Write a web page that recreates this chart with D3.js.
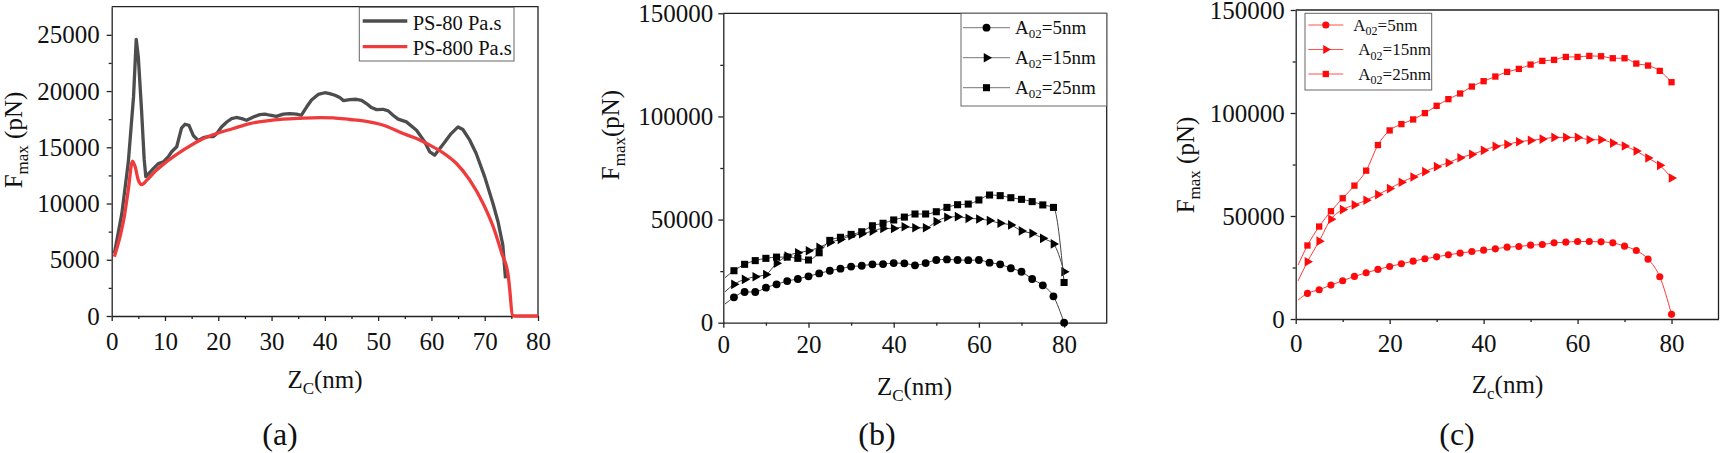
<!DOCTYPE html>
<html>
<head>
<meta charset="utf-8">
<script src="https://cdn.jsdelivr.net/npm/d3@7"></script>
<style>
  body { margin: 0; background: #fff; }
  text { white-space: pre; }
</style>
</head>
<body>
<svg id="fig" width="1720" height="453"></svg>
<script>
// panel (a): Fmax vs Zc for two viscosities
var ps80Z = [0.5, 1.9, 3.1, 4.1, 4.6, 5.0, 5.6, 6.1, 6.4, 7.2, 7.8, 8.75, 9.7, 10.6, 11.25, 12.2, 13.1, 13.75, 14.5, 15.3,
  16.25, 17.2, 18.1, 19.1, 19.7, 20.6, 21.6, 22.5, 23.4, 24.4, 25.3, 26.6, 27.8, 28.75, 29.7, 30.9, 32.2, 33.4, 34.7, 35.6,
  36.6, 37.5, 38.75, 40, 40.9, 41.9, 42.8, 43.5, 44.7, 45.9, 46.9, 47.8, 48.75, 49.7, 50.9, 51.9, 52.8, 53.75, 55.3, 57.2,
  58.75, 59.7, 60.6, 62.2, 63.7, 65, 65.9, 67.2, 68.4, 70, 71.55, 72.5, 73.4, 73.9];
var ps80F = [5560, 9100, 13600, 19500, 24600, 23000, 18300, 13900, 12400, 12800, 13100, 13550, 13700, 14150, 14600, 15050, 16700, 17050, 16950, 16050,
  15600, 15850, 15950, 15950, 16200, 16800, 17250, 17550, 17650, 17550, 17400, 17700, 17900, 17950, 17850, 17750, 17950, 18000, 17950, 17850,
  18600, 19200, 19700, 19850, 19770, 19630, 19420, 19150, 19240, 19270, 19180, 18890, 18530, 18350, 18380, 18240, 17850, 17500, 17260, 16520,
  15480, 14590, 14300, 15280, 16220, 16810, 16580, 15630, 14450, 12370, 10000, 8380, 6300, 3350];
var ps800Z = [0.5, 1.56, 2.3, 3.1, 3.9, 4.4, 5.0, 5.6, 6.6, 8.4, 10.3, 13.4, 16.6, 19.7, 22.8, 25.9, 29.1, 32.2, 35.3, 39.1,
  41.6, 44.7, 47.2, 51, 54.7, 57.2, 59.7, 62.2, 64.7, 67.2, 69.7, 71.6, 73.2, 74.4, 74.7, 75.2, 75.7, 80];
var ps800F = [5270, 7050, 8670, 11190, 13770, 13260, 12080, 11690, 12080, 12970, 13710, 14740, 15630, 16220, 16670, 17110, 17350, 17500, 17580, 17640,
  17610, 17470, 17350, 16960, 16220, 15780, 15190, 14510, 13560, 12080, 10010, 7930, 5570, 3640, 2310, 90, 0, 0];
var legendA = ["PS-80 Pa.s", "PS-800 Pa.s"];

// panels (b) and (c): three amplitudes, sampled every 2.5 nm
var zc = [2.5, 5, 7.5, 10, 12.5, 15, 17.5, 20, 22.5, 25, 27.5, 30, 32.5, 35, 37.5, 40,
  42.5, 45, 47.5, 50, 52.5, 55, 57.5, 60, 62.5, 65, 67.5, 70, 72.5, 75, 77.5, 80];
var bA5 = [12300, 14900, 14900, 17000, 18600, 20200, 21200, 22500, 23900, 25200, 26200, 27200, 27600, 28300, 28400, 28900,
  28800, 27800, 28900, 30400, 30700, 30400, 30300, 30400, 29100, 28300, 26400, 24700, 21200, 18100, 12800, 0];
var bA15 = [18600, 21000, 22300, 23400, 28800, 32300, 33900, 34900, 36500, 38900, 40400, 42200, 43100, 44400, 45700, 45700,
  46500, 46000, 46000, 49000, 51100, 51400, 50600, 50300, 49500, 48200, 47400, 44500, 43300, 40900, 38200, 24700];
var bA25 = [25200, 28300, 30100, 31200, 31800, 31800, 31200, 30400, 33900, 39900, 41400, 42800, 44100, 47000, 48200, 49800,
  51200, 52700, 52700, 53800, 55900, 57200, 57500, 59500, 61900, 61600, 60600, 59800, 58700, 57100, 55900, 19500];
var bStart = [9050, 15000, 21800];   // where the fitted lines leave the y axis
var cA5 = [12430, 14210, 16470, 18570, 20670, 22440, 24060, 25510, 26800, 28090, 29220, 30190, 31160, 31970, 32770, 33420,
  34070, 34870, 35200, 35840, 36170, 36970, 37300, 37620, 37620, 37460, 36970, 35360, 33260, 29060, 20500, 2260];
var cA15 = [27770, 37780, 48430, 53120, 55380, 57640, 60380, 63290, 66360, 68940, 71520, 73950, 75880, 78300, 79920, 81860,
  83790, 84760, 86050, 86700, 87340, 88150, 88150, 88150, 87020, 87020, 85400, 83950, 81530, 78140, 74590, 68460];
var cA25 = [35680, 44880, 52310, 58610, 64740, 72010, 84440, 91540, 94610, 96870, 99940, 103490, 106720, 109460, 112850, 115440,
  117700, 119960, 121410, 123510, 125290, 125770, 127220, 127220, 127710, 127550, 126580, 126580, 124000, 123030, 120440, 114950];
var cStart = [9200, 18500, 26150];
var ampLabels = ["5nm", "15nm", "25nm"];

var FONT = '"Liberation Serif", "Times New Roman", serif';
var AXIS = "#222";
var svg = d3.select("#fig");

// text with subscripts: parts = [[string, isSub], ...]
function rich(g, parts, size, subSize, shift) {
  var t = g.append("text").attr("font-family", FONT).attr("font-size", size).attr("fill", "#111");
  var prevSub = false;
  parts.forEach(function (p) {
    var ts = t.append("tspan").text(p[0]);
    if (p[1]) ts.attr("font-size", subSize);
    if (p[1] && !prevSub) ts.attr("dy", shift);
    if (!p[1] && prevSub) ts.attr("dy", -shift);
    prevSub = p[1];
  });
  return t;
}

// frame, axes, ticks and titles of one panel
function panel(c) {
  var x = d3.scaleLinear().domain(c.xDom).range([c.x0, c.x1]);
  var y = d3.scaleLinear().domain(c.yDom).range([c.y0, c.y1]);
  var g = svg.append("g");

  g.append("path")
    .attr("d", `M${c.x0},${c.y1}H${c.x1}V${c.y0}`)
    .attr("fill", "none").attr("stroke", AXIS).attr("stroke-width", 1.3);

  g.append("g").attr("transform", `translate(0,${c.y0})`)
    .call(d3.axisBottom(x).tickValues(c.xMinor).tickSize(3).tickSizeOuter(0).tickFormat(""))
    .select(".domain").remove();
  g.append("g").attr("transform", `translate(${c.x0},0)`)
    .call(d3.axisLeft(y).tickValues(c.yMinor).tickSize(3).tickSizeOuter(0).tickFormat(""))
    .select(".domain").remove();

  g.append("g").attr("transform", `translate(0,${c.y0})`)
    .call(d3.axisBottom(x).tickValues(c.xTicks).tickSize(5).tickSizeOuter(0).tickPadding(c.xPad).tickFormat(d3.format("d")));
  g.append("g").attr("transform", `translate(${c.x0},0)`)
    .call(d3.axisLeft(y).tickValues(c.yTicks).tickSize(5).tickSizeOuter(0).tickPadding(c.yPad).tickFormat(d3.format("d")));

  g.selectAll(".domain, .tick line").attr("stroke", AXIS).attr("stroke-width", 1.3);
  g.selectAll("g").attr("font-family", FONT).attr("font-size", 25);
  g.selectAll(".tick text").attr("fill", "#111");

  // axis titles
  rich(g, [["Z", false], [c.zSub, true], ["(nm)", false]], 25, 17, 6)
    .attr("x", c.xtX).attr("y", c.xtY).attr("text-anchor", "middle");
  rich(g, [["F", false], ["max", true], [c.yUnit, false]], 25, 17, 6)
    .attr("transform", `translate(${c.ytX},${c.ytY}) rotate(-90)`).attr("text-anchor", "middle");

  g.append("text").attr("x", c.tagX).attr("y", 445)
    .attr("font-family", FONT).attr("font-size", 32).attr("fill", "#111")
    .attr("text-anchor", "middle").text(c.tag);

  return { x: x, y: y, g: g };
}

// ---------- (a)
var pa = panel({
  xDom: [0, 80], yDom: [0, 27500], x0: 111.7, x1: 538, y0: 316, y1: 6.7,
  xTicks: d3.range(0, 81, 10), xMinor: d3.range(5, 80, 10),
  yTicks: d3.range(0, 25001, 5000), yMinor: d3.range(2500, 25000, 5000),
  xPad: 11, yPad: 7, zSub: "C", yUnit: " (pN)",
  xtX: 325, xtY: 388, ytX: 22, ytY: 140, tagX: 280, tag: "(a)"
});

var lineA = d3.line().x(function (d) { return pa.x(d[0]); }).y(function (d) { return pa.y(d[1]); });
pa.g.append("path").datum(d3.zip(ps80Z, ps80F))
  .attr("d", lineA.curve(d3.curveLinear))
  .attr("fill", "none").attr("stroke", "#4d4d4d").attr("stroke-width", 3.3).attr("stroke-linejoin", "round");
pa.g.append("path").datum(d3.zip(ps800Z, ps800F))
  .attr("d", lineA.curve(d3.curveMonotoneX))
  .attr("fill", "none").attr("stroke", "#ef3b3b").attr("stroke-width", 3.3).attr("stroke-linejoin", "round");

var legA = pa.g.append("g");
legA.append("rect").attr("x", 359.3).attr("y", 7.3).attr("width", 154.7).attr("height", 53.7)
  .attr("fill", "#fff").attr("stroke", "#666").attr("stroke-width", 1);
legendA.forEach(function (name, i) {
  var ly = 21 + i * 25.7;
  legA.append("line").attr("x1", 362.7).attr("x2", 407.3).attr("y1", ly).attr("y2", ly)
    .attr("stroke", i === 0 ? "#4d4d4d" : "#ef3b3b").attr("stroke-width", 3.3);
  legA.append("text").attr("x", 412.7).attr("y", ly + 8.5)
    .attr("font-family", FONT).attr("font-size", 20.5).attr("fill", "#111").text(name);
});

// ---------- (b) and (c)
var shapes = [
  { type: d3.symbolCircle, rot: 0 },
  { type: d3.symbolTriangle, rot: 90 },
  { type: d3.symbolSquare, rot: 0 }
];

function seriesPanel(p, sets, starts, lineColor, markColor, sizes, startZ) {
  var line = d3.line().curve(d3.curveMonotoneX)
    .x(function (d) { return p.x(d[0]); }).y(function (d) { return p.y(d[1]); });
  sets.forEach(function (vals, i) {
    var pts = [[startZ, starts[i]]].concat(d3.zip(zc, vals));
    p.g.append("path").datum(pts).attr("d", line)
      .attr("fill", "none").attr("stroke", lineColor).attr("stroke-width", 1);
    p.g.append("g").selectAll("path").data(d3.zip(zc, vals)).join("path")
      .attr("d", d3.symbol(shapes[i].type, sizes[i]))
      .attr("transform", function (d) { return `translate(${p.x(d[0])},${p.y(d[1])}) rotate(${shapes[i].rot})`; })
      .attr("fill", markColor);
  });
}

function ampLegend(p, box, lineColor, markColor, sizes, font, sub, textX) {
  var lg = p.g.append("g");
  lg.append("rect").attr("x", box.x).attr("y", box.y).attr("width", box.w).attr("height", box.h)
    .attr("fill", "#fff").attr("stroke", "#666").attr("stroke-width", 1);
  ampLabels.forEach(function (lab, i) {
    var ly = box.row0 + i * box.step;
    lg.append("line").attr("x1", box.l1).attr("x2", box.l2).attr("y1", ly).attr("y2", ly)
      .attr("stroke", lineColor).attr("stroke-width", 1);
    lg.append("path").attr("d", d3.symbol(shapes[i].type, sizes[i]))
      .attr("transform", `translate(${(box.l1 + box.l2) / 2},${ly}) rotate(${shapes[i].rot})`)
      .attr("fill", markColor);
    rich(lg, [["A", false], ["02", true], ["=" + lab, false]], font, sub, 4.5)
      .attr("x", textX[i]).attr("y", ly + font * 0.33);
  });
}

var pb = panel({
  xDom: [0, 90], yDom: [0, 150000], x0: 723.3, x1: 1106.7, y0: 322.7, y1: 13.3,
  xTicks: d3.range(0, 81, 20), xMinor: d3.range(10, 90, 20),
  yTicks: d3.range(0, 150001, 50000), yMinor: d3.range(25000, 150000, 50000),
  xPad: 8, yPad: 5, zSub: "C", yUnit: "(pN)",
  xtX: 914.5, xtY: 395, ytX: 618.5, ytY: 135, tagX: 877, tag: "(b)"
});
seriesPanel(pb, [bA5, bA15, bA25], bStart, "#444", "#000", [48, 40, 50], 0.4);
ampLegend(pb, { x: 961, y: 13.3, w: 145.7, h: 92.7, row0: 27.7, step: 30, l1: 963, l2: 1010 },
  "#777", "#000", [48, 40, 50], 19, 13, [1015, 1015, 1015]);

var pc = panel({
  xDom: [0, 90], yDom: [0, 150000], x0: 1295.7, x1: 1718.5, y0: 319, y1: 10,
  xTicks: d3.range(0, 81, 20), xMinor: d3.range(10, 90, 20),
  yTicks: d3.range(0, 150001, 50000), yMinor: d3.range(25000, 150000, 50000),
  xPad: 10, yPad: 6, zSub: "c", yUnit: " (pN)",
  xtX: 1507.5, xtY: 393, ytX: 1193.6, ytY: 165, tagX: 1457, tag: "(c)"
});
seriesPanel(pc, [cA5, cA15, cA25], cStart, "#ff3a3a", "#ff0a0a", [40, 40, 40], 0.5);
ampLegend(pc, { x: 1305, y: 13.3, w: 126.7, h: 76.7, row0: 25, step: 24.5, l1: 1308.3, l2: 1343.3 },
  "#ff5050", "#ff0a0a", [40, 34, 40], 17, 12, [1353.3, 1358.3, 1358.3]);
</script>
</body>
</html>
